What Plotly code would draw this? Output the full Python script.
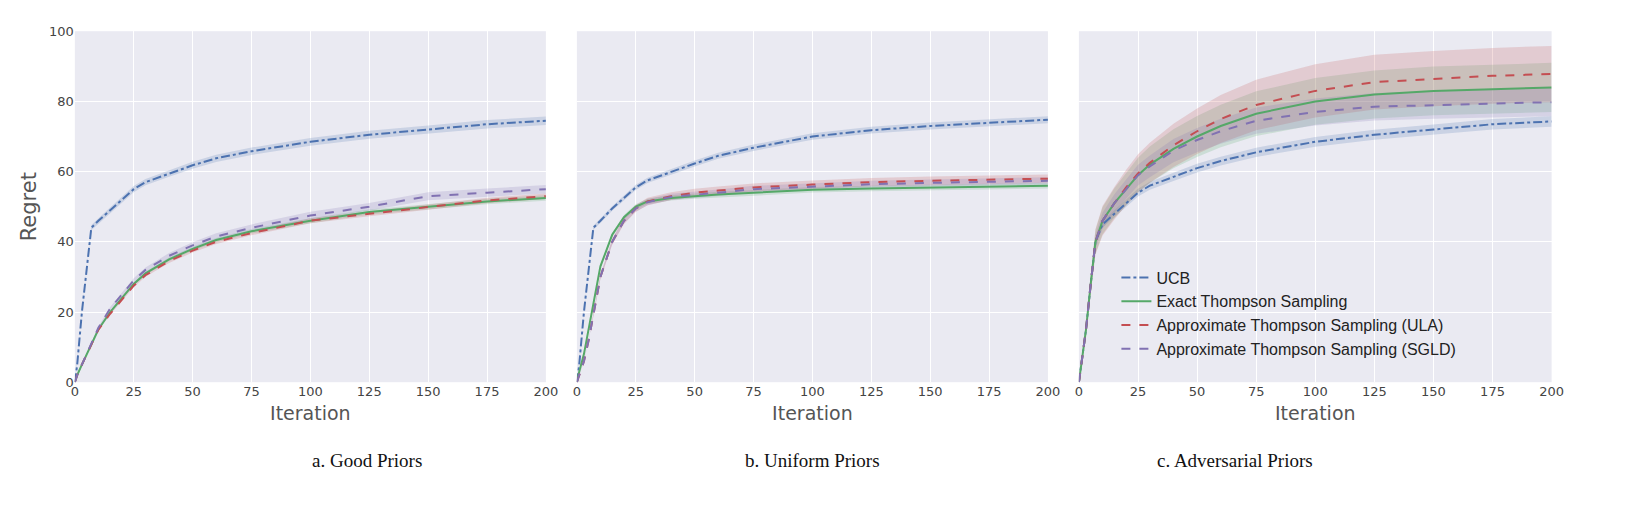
import plotly.graph_objects as go
from plotly.subplots import make_subplots

iters = [0, 1, 3, 5, 7, 10, 15, 20, 25, 30, 40, 50, 60, 75, 100, 125, 150, 175, 200]

# panel a: good priors
good_ucb = [0, 5, 20, 33, 44, 46, 49, 52, 55, 57, 59.5, 61.8, 63.8, 65.8, 68.5, 70.5, 72, 73.5, 74.5]
good_exact = [0, 2, 5, 8, 11, 15, 20, 24, 28, 31, 35, 38, 40.5, 43, 46, 48.5, 50, 51.5, 52.5]
good_ula = [0, 2, 5, 8, 11, 15, 19.5, 23.5, 27.5, 30.5, 34.5, 37.5, 40, 42.5, 46, 48, 50, 51.8, 53]
good_sgld = [0, 2, 5, 8, 11, 15.5, 21, 25, 29, 32, 36, 39, 41.5, 44, 47.5, 50, 53, 54, 55]

# panel b: uniform priors
unif_ucb = [0, 5, 20, 33, 44, 46, 49.5, 52.5, 55.5, 57.5, 60, 62.3, 64.5, 66.8, 70, 71.8, 73, 74, 74.8]
unif_exact = [0, 3, 8, 15, 22, 33, 42, 47, 50, 51.5, 52.5, 53, 53.5, 54, 54.8, 55.2, 55.5, 55.8, 56]
unif_ula = [0, 2, 6, 12, 19, 30, 40, 46, 49.5, 51.5, 53, 54, 54.6, 55.5, 56.3, 57, 57.4, 57.7, 58]
unif_sgld = [0, 2, 6, 12, 19, 30, 40, 46, 49.5, 51.3, 52.8, 53.5, 54, 55, 55.8, 56.4, 56.8, 57.1, 57.4]

# panel c: adversarial priors
adv_ucb = [0, 5, 15, 28, 40, 45, 48, 51, 54, 56, 58.5, 61, 63, 65.5, 68.5, 70.5, 72, 73.5, 74.3]
adv_exact = [0, 5, 15, 28, 40, 46, 51, 55, 59, 62, 66.5, 70, 73, 76.5, 80, 82, 83, 83.5, 84]
adv_ula = [0, 5, 15, 28, 40, 46, 51, 55.5, 59.5, 62.5, 67.5, 71.5, 75, 79, 83, 85.5, 86.5, 87.3, 87.8]
adv_sgld = [0, 5, 15, 28, 40, 46, 51, 55, 59, 61.5, 66, 69, 71.5, 74.5, 77, 78.5, 79, 79.5, 79.8]

# band half-widths at the final iteration (scaled with the mean)
bands = {
    "good": [1.2, 0.8, 0.8, 1.2],
    "unif": [1.0, 0.8, 1.2, 1.0],
    "adv": [1.5, 7, 8, 4],
}

names = ["UCB", "Exact Thompson Sampling",
         "Approximate Thompson Sampling (ULA)", "Approximate Thompson Sampling (SGLD)"]
colors = ["#4C72B0", "#55A868", "#C44E52", "#8172B2"]
fills = ["rgba(76,114,176,0.2)", "rgba(85,168,104,0.2)",
         "rgba(196,78,82,0.2)", "rgba(129,114,178,0.2)"]
dashes = ["dashdot", "solid", "dash", "dash"]

panels = [
    ("good", [good_ucb, good_exact, good_ula, good_sgld]),
    ("unif", [unif_ucb, unif_exact, unif_ula, unif_sgld]),
    ("adv", [adv_ucb, adv_exact, adv_ula, adv_sgld]),
]
captions = ["a. Good Priors", "b. Uniform Priors", "c. Adversarial Priors"]

fig = make_subplots(rows=1, cols=3)
domains = [[0.041, 0.330], [0.349, 0.638], [0.657, 0.947]]

for col, (key, series) in enumerate(panels, start=1):
    for i, ys in enumerate(series):
        hw = bands[key][i]
        end = ys[-1] if ys[-1] else 1
        up = [y + hw * y / end for y in ys]
        lo = [y - hw * y / end for y in ys]
        fig.add_trace(go.Scatter(
            x=iters + iters[::-1], y=up + lo[::-1], fill="toself",
            fillcolor=fills[i], line=dict(width=0), hoverinfo="skip",
            showlegend=False), row=1, col=col)
    for i, ys in enumerate(series):
        fig.add_trace(go.Scatter(
            x=iters, y=ys, mode="lines", name=names[i],
            line=dict(color=colors[i], width=2, dash=dashes[i]),
            showlegend=(col == 3)), row=1, col=col)

axis_common = dict(showgrid=True, gridcolor="white", gridwidth=1.2, zeroline=False,
                   tickfont=dict(size=13, color="#444", family="DejaVu Sans"),
                   showline=False, ticks="", automargin=False)
for c in range(1, 4):
    fig.update_xaxes(range=[0, 200], tickvals=[0, 25, 50, 75, 100, 125, 150, 175, 200],
                     domain=domains[c - 1],
                     title=dict(text="Iteration", font=dict(size=19, color="#555", family="DejaVu Sans"),
                                standoff=8),
                     row=1, col=c, **axis_common)
    fig.update_yaxes(range=[0, 100], tickvals=[0, 20, 40, 60, 80, 100],
                     showticklabels=(c == 1), domain=[0.259, 0.954],
                     row=1, col=c, **axis_common)
fig.update_yaxes(title=dict(text="Regret", font=dict(size=21, color="#555", family="DejaVu Sans"),
                            standoff=6), row=1, col=1)

for cap, d in zip(captions, domains):
    fig.add_annotation(text=cap, x=(d[0] + d[1]) / 2, y=0.08, xref="paper", yref="paper",
                       showarrow=False, font=dict(size=19, color="#111", family="Liberation Serif"))

fig.update_layout(
    width=1630, height=505, margin=dict(l=0, r=0, t=0, b=0),
    paper_bgcolor="white", plot_bgcolor="#EAEAF2",
    legend=dict(x=0.68, y=0.50, xanchor="left", yanchor="top", bgcolor="rgba(0,0,0,0)",
                font=dict(size=16, color="#222", family="Liberation Sans"), tracegroupgap=0),
)

fig.write_html("out.html")
